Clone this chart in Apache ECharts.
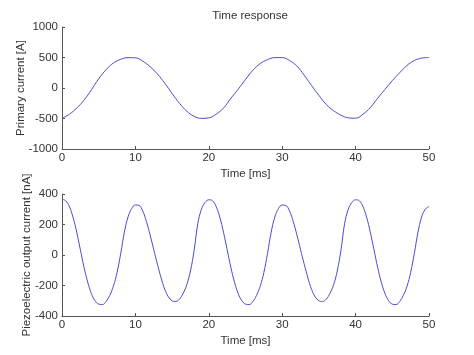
<!DOCTYPE html>
<html>
<head>
<meta charset="utf-8">
<script src="https://cdn.jsdelivr.net/npm/echarts@6/dist/echarts.min.js"></script>
<style>
html,body{margin:0;padding:0;background:#fff;}
#c{width:474px;height:355px;}
</style>
</head>
<body>
<div id="c"></div>
<script>
var title = 'Time response';
var xName = 'Time [ms]';
var yName1 = 'Primary current [A]';
var yName2 = 'Piezoelectric output current [nA]';

// top: primary current, sampled every 1 ms
var timeTop = [0,1,2,3,4,5,6,7,8,9,10,11,12,13,14,15,16,17,18,19,20,21,22,23,24,25,26,27,28,29,30,31,32,33,34,35,36,37,38,39,40,41,42,43,44,45,46,47,48,49,50];
var primaryCurrent = [-500,-430,-330,-200,-30,150,300,410,470,498,495,440,350,230,80,-90,-250,-380,-465,-498,-490,-430,-330,-170,-20,140,290,400,465,498,498,450,360,210,40,-120,-270,-372,-445,-490,-495,-430,-320,-170,-23,120,250,370,450,490,500];

// bottom: piezoelectric output current, sampled every 0.5 ms
var timeBottom = [0,0.5,1,1.5,2,2.5,3,3.5,4,4.5,5,5.5,6,6.5,7,7.5,8,8.5,9,9.5,10,10.5,11,11.5,12,12.5,13,13.5,14,14.5,15,15.5,16,16.5,17,17.5,18,18.5,19,19.5,20,20.5,21,21.5,22,22.5,23,23.5,24,24.5,25,25.5,26,26.5,27,27.5,28,28.5,29,29.5,30,30.5,31,31.5,32,32.5,33,33.5,34,34.5,35,35.5,36,36.5,37,37.5,38,38.5,39,39.5,40,40.5,41,41.5,42,42.5,43,43.5,44,44.5,45,45.5,46,46.5,47,47.5,48,48.5,49,49.5,50];
var piezoCurrent = [365,356,318,248,150,35,-80,-178,-252,-300,-322,-325,-305,-265,-205,-115,10,150,250,305,328,
325,288,220,132,35,-60,-150,-225,-275,-300,-305,-290,-252,-195,-105,30,205,300,345,362,
356,318,248,150,35,-80,-178,-252,-300,-322,-325,-305,-265,-205,-115,10,150,250,305,328,
325,288,220,132,35,-60,-150,-225,-275,-300,-305,-290,-252,-195,-105,30,205,300,345,362,
356,318,248,150,35,-80,-178,-252,-300,-322,-325,-305,-265,-205,-115,10,150,250,300,318];

var xTicks = {min:0, max:50, interval:10};
var yTicks1 = {min:-1000, max:1000, interval:500};
var yTicks2 = {min:-400, max:400, interval:200};

function zip(a,b){var r=[];for(var i=0;i<a.length;i++){r.push([a[i],b[i]]);}return r;}

var FONT = 'Liberation Sans';
var TXT = '#333';
var AX = '#555';
var FS = 11.5;

function plain(v){ return String(v); }

function xAxis(gi){
  return {
    type:'value', gridIndex:gi, min:xTicks.min, max:xTicks.max, interval:xTicks.interval,
    name:xName, nameLocation:'middle', nameGap:19, nameMoveOverlap:false,
    nameTextStyle:{color:TXT, fontFamily:FONT, fontSize:FS},
    axisLine:{show:true, onZero:false, lineStyle:{color:AX, width:1}},
    axisTick:{show:true, inside:true, length:3, lineStyle:{color:AX}},
    axisLabel:{color:TXT, fontFamily:FONT, fontSize:FS, margin:3, formatter:plain},
    splitLine:{show:false}
  };
}
function yAxis(gi, t, name, gap){
  return {
    type:'value', gridIndex:gi, min:t.min, max:t.max, interval:t.interval,
    name:name, nameLocation:'middle', nameGap:gap, nameRotate:90, nameMoveOverlap:false,
    nameTextStyle:{color:TXT, fontFamily:FONT, fontSize:FS},
    axisLine:{show:true, onZero:false, lineStyle:{color:AX, width:1}},
    axisTick:{show:true, inside:true, length:3, lineStyle:{color:AX}},
    axisLabel:{color:TXT, fontFamily:FONT, fontSize:FS, margin:4, formatter:plain},
    splitLine:{show:false}
  };
}

var chart = echarts.init(document.getElementById('c'), null, {renderer:'canvas'});
chart.setOption({
  backgroundColor:'#ffffff',
  animation:false,
  title:{text:title, left:245, top:5, textAlign:'center',
    textStyle:{color:TXT, fontFamily:FONT, fontSize:FS, fontWeight:'normal'}},
  grid:[
    {left:62, top:27, width:367, height:122, outerBoundsMode:'none', containLabel:false},
    {left:62, top:194, width:367, height:122, outerBoundsMode:'none', containLabel:false}
  ],
  xAxis:[xAxis(0), xAxis(1)],
  yAxis:[yAxis(0, yTicks1, yName1, 35), yAxis(1, yTicks2, yName2, 29)],
  series:[
    {type:'line', xAxisIndex:0, yAxisIndex:0, data:zip(timeTop, primaryCurrent), smooth:0.4,
     showSymbol:false, lineStyle:{color:'#4a4ad8', width:1}},
    {type:'line', xAxisIndex:1, yAxisIndex:1, data:zip(timeBottom, piezoCurrent), smooth:0.4,
     showSymbol:false, lineStyle:{color:'#4a4ad8', width:1}}
  ]
});
</script>
</body>
</html>
